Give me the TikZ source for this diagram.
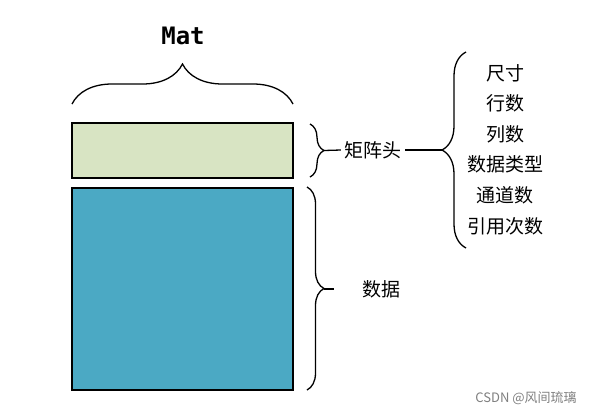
\documentclass[tikz,border=0pt]{standalone}
\usepackage{fontspec}
\setmainfont{Noto Sans CJK SC}
\newfontfamily\monof{DejaVu Sans Mono}
\usetikzlibrary{decorations.pathreplacing}
\definecolor{hdr}{HTML}{D8E4C3}
\definecolor{dat}{HTML}{4BA9C4}
\tikzset{brc/.style={decorate,decoration={brace,amplitude=#1},line width=1.3pt},
 blk/.style={draw=black,line width=1.6pt},
 lbl/.style={font=\fontsize{19}{21}\selectfont},
 itm/.style={font=\fontsize{19}{21}\selectfont}}
\begin{document}
\begin{tikzpicture}[x=1pt,y=-1pt]
\useasboundingbox[fill=white] (0,0) rectangle (608,413);
\node[font=\monof\bfseries\fontsize{24}{26}\selectfont] (mat) at (183,36) {Mat};
\draw[brc=40pt] (72,104) -- (293,104);
\draw[blk,fill=hdr] (72,123) rectangle (293,178);
\draw[blk,fill=dat] (72,188) rectangle (293,390);
\draw[brc=14pt] (310,124) -- (310,177);
\coordinate (t1) at (324,150.5);
\node[lbl] (hd) at (373,150) {矩阵头};
\draw[line width=1.3pt] (t1) -- (hd.west);
\draw[brc=24pt] (466,248) -- (466,52);
\coordinate (t2) at (442,150);
\draw[line width=1.3pt] (hd.east) -- (t2);
\node[itm] (a) at (505,73) {尺寸};
\node[itm] (b) at (505,103) {行数};
\node[itm] (c) at (505,134) {列数};
\node[itm] (d) at (505,164) {数据类型};
\node[itm] (e) at (505,195) {通道数};
\node[itm] (f) at (505,226) {引用次数};
\draw[brc=17pt] (307,187) -- (307,390);
\coordinate (t3) at (324,289);
\coordinate (t4) at (334,289);
\draw[line width=1.3pt] (t3) -- (t4);
\node[lbl] (sj) at (381,289) {数据};
\node[font=\fontsize{13}{15}\selectfont,text=gray] (wm) at (526,398) {CSDN @风间琉璃};
\end{tikzpicture}
\end{document}
